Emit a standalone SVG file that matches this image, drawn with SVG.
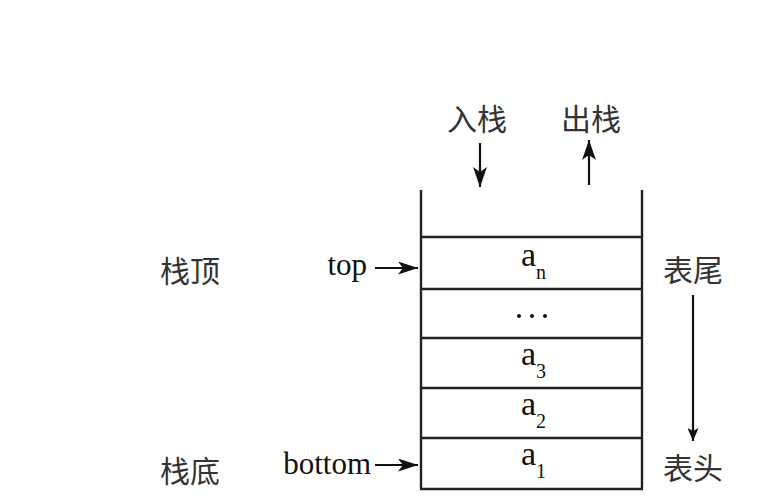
<svg xmlns="http://www.w3.org/2000/svg" width="771" height="499" viewBox="0 0 771 499">
<style>
.cn{font-family:"Noto Sans CJK SC","Noto Sans",sans-serif;font-size:30px;fill:#333}
.en{font-family:"Liberation Serif","Times New Roman",serif;font-size:31px;fill:#111}
.a{font-family:"Liberation Serif","Times New Roman",serif;font-size:34px;fill:#111}
.sub{font-family:"Liberation Serif","Times New Roman",serif;font-size:20px;fill:#111}
.ln{stroke:#222;stroke-width:2.4;fill:none}
.ar{stroke:#111;stroke-width:2.2;fill:none}
</style>
<defs>
<marker id="ah" viewBox="0 0 20 13" refX="20" refY="6.5" markerWidth="20" markerHeight="13" markerUnits="userSpaceOnUse" orient="auto">
<path d="M0,0 L20,6.5 L0,13 L5,6.5 Z" fill="#111"/>
</marker>
<marker id="ahv" viewBox="0 0 20 14" refX="20" refY="7" markerWidth="20" markerHeight="14" markerUnits="userSpaceOnUse" orient="auto">
<path d="M0,0 L20,7 L0,14 L5,7 Z" fill="#111"/>
</marker>
<marker id="ahs" viewBox="0 0 13 11" refX="13" refY="5.5" markerWidth="13" markerHeight="11" markerUnits="userSpaceOnUse" orient="auto">
<path d="M0,0 L13,5.5 L0,11 L3,5.5 Z" fill="#111"/>
</marker>
</defs>
<rect width="771" height="499" fill="#fff"/>
<g id="stack">
<path class="ln" d="M421,190 V489 M642,190 V489 M421,237 H642 M421,289 H642 M421,338 H642 M421,388 H642 M421,438 H642 M420,489 H643"/>
</g>
<g id="cell-an"><text class="a" x="521" y="266">a</text><text class="sub" x="536" y="279">n</text></g>
<g id="cell-dots"><circle cx="519" cy="316" r="2" fill="#111"/><circle cx="532" cy="316" r="2" fill="#111"/><circle cx="545" cy="316" r="2" fill="#111"/></g>
<g id="cell-a3"><text class="a" x="521" y="365">a</text><text class="sub" x="536" y="378">3</text></g>
<g id="cell-a2"><text class="a" x="521" y="415">a</text><text class="sub" x="536" y="428">2</text></g>
<g id="cell-a1"><text class="a" x="521" y="465">a</text><text class="sub" x="536" y="478">1</text></g>
<g id="label-push"><text class="cn" x="477" y="130" text-anchor="middle">入栈</text></g>
<g id="label-pop"><text class="cn" x="591" y="130" text-anchor="middle">出栈</text></g>
<g id="label-top-cn"><text class="cn" x="160" y="282">栈顶</text></g>
<g id="label-bottom-cn"><text class="cn" x="160" y="482">栈底</text></g>
<g id="label-top"><text class="en" x="367" y="275" text-anchor="end">top</text></g>
<g id="label-bottom"><text class="en" x="371" y="474" text-anchor="end">bottom</text></g>
<g id="label-tail"><text class="cn" x="663" y="281">表尾</text></g>
<g id="label-head"><text class="cn" x="663" y="479">表头</text></g>
<g id="connectors">
<line class="ar" x1="480" y1="143" x2="480" y2="187" marker-end="url(#ahv)"/>
<line class="ar" x1="589" y1="185" x2="589" y2="140" marker-end="url(#ahv)"/>
<line class="ar" x1="375" y1="268" x2="418" y2="268" marker-end="url(#ah)"/>
<line class="ar" x1="375" y1="465" x2="418" y2="465" marker-end="url(#ah)"/>
<line class="ar" x1="693" y1="295" x2="693" y2="441" marker-end="url(#ahs)"/>
</g>
</svg>
